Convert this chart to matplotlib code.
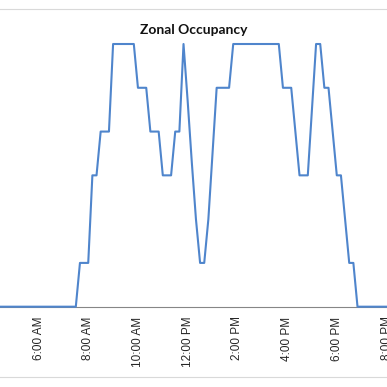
import matplotlib
matplotlib.use("Agg")
import matplotlib.pyplot as plt
from matplotlib.lines import Line2D

# sample times (10 min steps) and zone occupancy
times = [
    "04:00", "07:30", "07:40", "07:50", "08:00", "08:10", "08:20", "08:30",
    "08:40", "08:50", "09:00", "09:10", "09:20", "09:30", "09:40", "09:50",
    "10:00", "10:10", "10:20", "10:30", "10:40", "10:50", "11:00", "11:10",
    "11:20", "11:30", "11:40", "11:50", "12:00", "12:10", "12:20", "12:30",
    "12:40", "12:50", "13:00", "13:10", "13:20", "13:30", "13:40", "13:50",
    "14:00", "14:10", "14:20", "14:30", "14:40", "14:50", "15:00", "15:10",
    "15:20", "15:30", "15:40", "15:50", "16:00", "16:10", "16:20", "16:30",
    "16:40", "16:50", "17:00", "17:10", "17:20", "17:30", "17:40", "17:50",
    "18:00", "18:10", "18:20", "18:30", "18:40", "18:50", "21:00",
]
occupancy = [
    0, 0, 1, 1, 1, 3, 3, 4,
    4, 4, 6, 6, 6, 6, 6, 6,
    5, 5, 5, 4, 4, 4, 3, 3,
    3, 4, 4, 6, 4.7, 3.3, 2, 1,
    1, 2, 3.5, 5, 5, 5, 5, 6,
    6, 6, 6, 6, 6, 6, 6, 6,
    6, 6, 6, 5, 5, 5, 4, 3,
    3, 3, 4.5, 6, 6, 5, 5, 4,
    3, 3, 2, 1, 1, 0, 0,
]
tick_hours = [6, 8, 10, 12, 14, 16, 18, 20]
tick_labels = ["6:00 AM", "8:00 AM", "10:00 AM", "12:00 PM",
               "2:00 PM", "4:00 PM", "6:00 PM", "8:00 PM"]

hours = [int(t[:2]) + int(t[3:]) / 60 for t in times]

fig = plt.figure(figsize=(3.87, 3.87), dpi=100)
ax = fig.add_axes([0, 0.2075, 1, 0.6788])

ax.plot(hours, occupancy, color="#4F85CC", lw=1.5, clip_on=False, zorder=3)

ax.set_xlim(4.45, 20.02)
ax.set_ylim(0, 6)
for s in ["top", "left", "right"]:
    ax.spines[s].set_visible(False)
ax.spines["bottom"].set_color("#868686")
ax.spines["bottom"].set_linewidth(0.8)
ax.set_yticks([])
ax.set_xticks(tick_hours)
ax.set_xticklabels(tick_labels, rotation=90, fontsize=8.5,
                   family="Liberation Sans", color="#262626")
ax.tick_params(axis="x", length=0, pad=7)

fig.text(0.5, 0.922, "Zonal Occupancy", ha="center", va="center",
         fontsize=10, fontweight="bold", family="Lato", color="#111111")

# chart area border (light gray lines visible at top and bottom)
for yy in (1 - 9 / 387, 1 - 377 / 387):
    fig.add_artist(Line2D([0, 1], [yy, yy], transform=fig.transFigure,
                          color="#D9D9D9", lw=0.8))

fig.savefig("out.png", dpi=100, facecolor="white")
